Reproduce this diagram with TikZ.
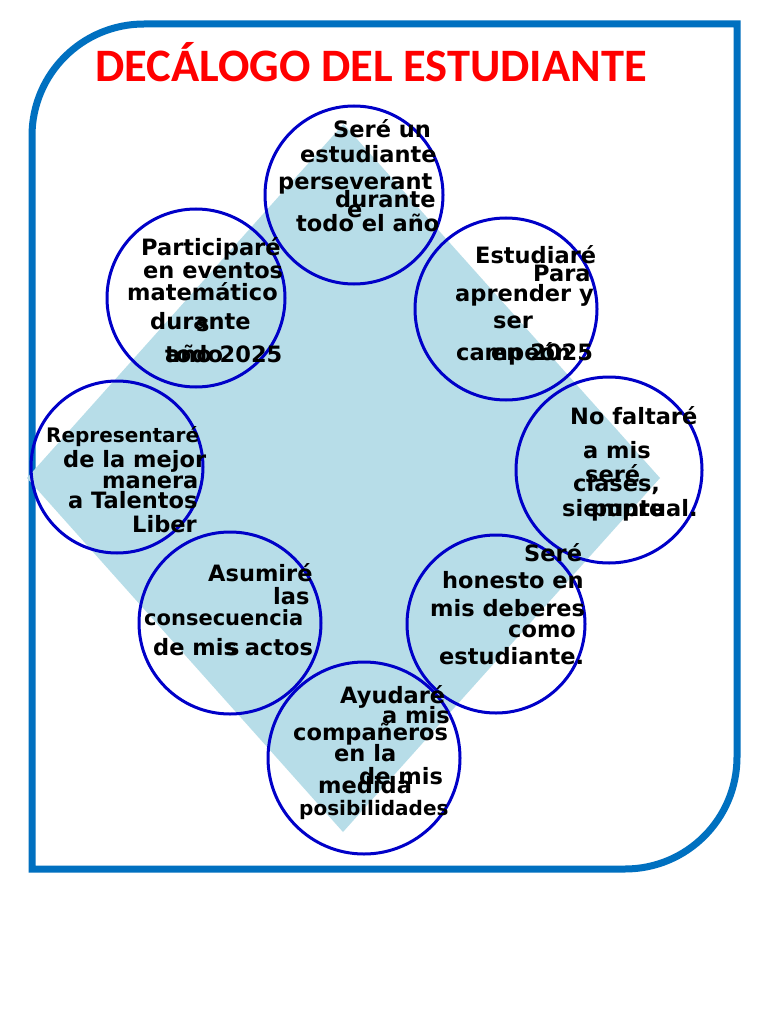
\documentclass[tikz,border=0pt]{standalone}
\usepackage{fontspec}
\setmainfont{DejaVu Sans}
\newfontfamily\titlefont{Carlito}
\definecolor{framecol}{RGB}{0,112,192}
\definecolor{diacol}{RGB}{183,221,232}
\definecolor{circcol}{RGB}{0,0,200}
\definecolor{titlecol}{RGB}{255,0,0}
\tikzset{
  frame/.style={draw=framecol, line width=7pt, line join=miter},
  diam/.style={fill=diacol},
  circ/.style={circle, draw=circcol, line width=3pt, inner sep=0pt, minimum size=#1},
  wline/.style={anchor=base west, inner sep=0pt, font=\fontsize{22.5}{22.5}\selectfont\bfseries},
  wlines/.style={wline, font=\fontsize{20}{20}\selectfont\bfseries},
  wlinem/.style={wline, font=\fontsize{21}{21}\selectfont\bfseries},
  titletext/.style={anchor=base, inner sep=0pt, text=titlecol, font=\titlefont\fontsize{46.5}{46.5}\selectfont\bfseries},
}
\begin{document}
\begin{tikzpicture}[x=1pt, y=-1pt]
\useasboundingbox (0,0) rectangle (768,1024);
\fill[white] (0,0) rectangle (768,1024);
% frame
\draw[frame] (32,869) -- (32,136) .. controls (32,74.1) and (82.1,24) .. (144,24)
  -- (737,24) -- (737,757) .. controls (737,818.9) and (686.9,869) .. (625,869) -- cycle;
% title
\node[titletext] (title) at (371,82) {DECÁLOGO DEL ESTUDIANTE};
% diamond
\fill[diam] (343.5,124) -- (660,478) -- (343,832) -- (27,478) -- cycle;
% circles
\node[circ=178pt] (c1) at (354,195) {};
\node[circ=178pt] (c2) at (196,298) {};
\node[circ=182pt] (c3) at (506,309) {};
\node[circ=172pt] (c4) at (117,467) {};
\node[circ=186pt] (c5) at (609,470) {};
\node[circ=182pt] (c6) at (230,623) {};
\node[circ=178pt] (c7) at (496,624) {};
\node[circ=192pt] (c8) at (364,758) {};
% circle 1
\node[wline] (t1a) at (333,138) {Seré un};
\node[wline] (t1b) at (300,163) {estudiante};
\node[wline] (t1c) at (278,190) {perseverant};
\node[wline] (t1d) at (335,208) {durante};
\node[wline] (t1e) at (347,218) {e};
\node[wline] (t1f) at (296,232) {todo el año};
% circle 2
\node[wline] (t2a) at (141,255) {Participaré};
\node[wline] (t2b) at (143,278) {en eventos};
\node[wline] (t2c) at (127,300) {matemático};
\node[wline] (t2d) at (150,329) {durante};
\node[wline] (t2e) at (196,331) {s};
\node[wline] (t2f) at (165,362) {todo};
\node[wline] (t2g) at (165,362) {año 2025};
% circle 3
\node[wline] (t3a) at (475,263) {Estudiaré};
\node[wline] (t3b) at (533,281) {Para};
\node[wline] (t3c) at (455,301) {aprender y};
\node[wline] (t3d) at (493,328) {ser};
\node[wline] (t3e) at (456,360) {campeón};
\node[wline] (t3f) at (491,360) {en 2025};
% circle 4
\node[wlines] (t4a) at (46,442) {Representaré};
\node[wline] (t4b) at (63,467) {de la mejor};
\node[wline] (t4c) at (102,488) {manera};
\node[wline] (t4d) at (68,508) {a Talentos};
\node[wline] (t4e) at (132,532) {Liber};
% circle 5
\node[wline] (t5a) at (570,424) {No faltaré};
\node[wline] (t5b) at (583,458) {a mis};
\node[wline] (t5c) at (585,482) {seré};
\node[wline] (t5d) at (573,491) {clases,};
\node[wline] (t5e) at (562,516) {siempre};
\node[wline] (t5f) at (591,516) {puntual.};
% circle 6
\node[wline] (t6a) at (208,581) {Asumiré};
\node[wline] (t6b) at (273,604) {las};
\node[wlinem] (t6c) at (144,625) {consecuencia};
\node[wline] (t6d) at (153,655) {de mis actos};
\node[wline] (t6e) at (226,655) {s};
% circle 7
\node[wline] (t7a) at (524,561) {Seré};
\node[wline] (t7b) at (442,588) {honesto en};
\node[wline] (t7c) at (430,616) {mis deberes};
\node[wline] (t7d) at (508,637) {como};
\node[wline] (t7e) at (439,664) {estudiante.};
% circle 8
\node[wline] (t8a) at (340,703) {Ayudaré};
\node[wline] (t8b) at (382,723) {a mis};
\node[wline] (t8c) at (293,740) {compañeros};
\node[wline] (t8d) at (334,761) {en la};
\node[wline] (t8e) at (359,784) {de mis};
\node[wline] (t8f) at (318,793) {medida};
\node[wlines] (t8g) at (299,815) {posibilidades};
\end{tikzpicture}
\end{document}
